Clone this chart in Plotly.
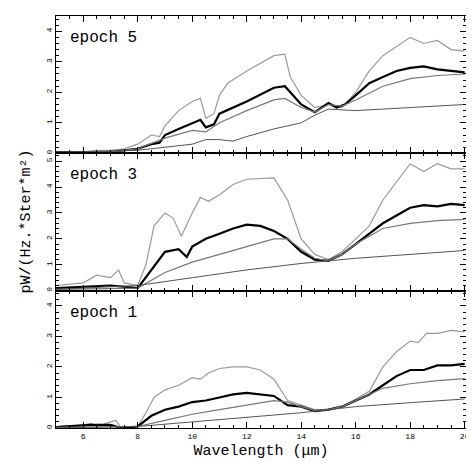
import plotly.graph_objects as go
from plotly.subplots import make_subplots

# epoch 5 (top panel)
e5_up_x = [5, 6, 6.5, 7, 7.5, 8, 8.5, 8.8, 9, 9.5, 10, 10.3, 10.5, 10.8, 11, 11.3, 12, 13, 13.4, 13.6, 14, 14.5, 15, 15.5, 16, 16.5, 17, 17.5, 18, 18.5, 19, 19.5, 20]
e5_up_y = [0.05, 0.05, 0.1, 0.1, 0.15, 0.3, 0.6, 0.55, 0.9, 1.4, 1.7, 1.8, 1.15, 1.3, 1.9, 2.3, 2.7, 3.2, 3.25, 2.5, 1.9, 1.5, 1.6, 1.5, 2.0, 2.7, 3.2, 3.5, 3.8, 3.6, 3.7, 3.4, 3.35]
e5_bk_x = [5, 7, 8, 8.5, 8.8, 9, 9.5, 10, 10.3, 10.5, 10.8, 11, 11.5, 12, 13, 13.4, 13.7, 14, 14.5, 15, 15.3, 15.6, 16, 16.5, 17, 17.5, 18, 18.5, 19, 19.5, 20]
e5_bk_y = [0.03, 0.05, 0.15, 0.3, 0.35, 0.6, 0.8, 1.0, 1.1, 0.85, 0.95, 1.3, 1.5, 1.7, 2.15, 2.2, 1.9, 1.6, 1.35, 1.65, 1.5, 1.6, 1.9, 2.3, 2.5, 2.7, 2.8, 2.85, 2.75, 2.7, 2.65]
e5_md_x = [5, 7, 8, 9, 10, 10.5, 11, 12, 13, 13.4, 14, 14.5, 15, 15.5, 16, 17, 18, 19, 20]
e5_md_y = [0.03, 0.05, 0.15, 0.5, 0.75, 0.7, 1.0, 1.4, 1.75, 1.8, 1.5, 1.35, 1.6, 1.55, 1.75, 2.2, 2.45, 2.55, 2.6]
e5_lo_x = [5, 8, 10, 10.5, 11, 11.5, 12, 13, 14, 14.5, 15, 16, 17, 18, 19, 20]
e5_lo_y = [0.02, 0.1, 0.3, 0.45, 0.45, 0.4, 0.55, 0.8, 1.0, 1.25, 1.45, 1.4, 1.45, 1.5, 1.55, 1.6]

# epoch 3 (middle panel)
e3_up_x = [5, 6, 6.5, 7, 7.3, 7.5, 8, 8.3, 8.6, 9, 9.3, 9.6, 10, 10.3, 10.6, 11, 11.5, 12, 13, 13.5, 14, 14.5, 15, 15.5, 16, 16.5, 17, 17.5, 18, 18.5, 19, 19.5, 20]
e3_up_y = [0.2, 0.3, 0.6, 0.5, 0.8, 0.3, 0.2, 1.0, 2.5, 3.0, 2.8, 2.1, 3.0, 3.6, 3.45, 3.7, 4.1, 4.3, 4.35, 3.5, 2.0, 1.4, 1.2, 1.5, 2.0, 2.5, 3.5, 4.2, 4.9, 4.6, 4.9, 4.7, 4.7]
e3_bk_x = [5, 7, 8, 8.5, 9, 9.5, 9.8, 10, 10.5, 11, 11.5, 12, 12.5, 13, 13.5, 14, 14.5, 15, 15.5, 16, 16.5, 17, 17.5, 18, 18.5, 19, 19.5, 20]
e3_bk_y = [0.1, 0.2, 0.1, 0.8, 1.5, 1.6, 1.3, 1.7, 2.0, 2.2, 2.4, 2.55, 2.5, 2.3, 2.0, 1.5, 1.2, 1.15, 1.4, 1.8, 2.2, 2.6, 2.9, 3.2, 3.3, 3.25, 3.35, 3.3]
e3_md_x = [5, 8, 9, 10, 11, 12, 13, 13.5, 14, 14.5, 15, 15.5, 16, 17, 18, 19, 20]
e3_md_y = [0.05, 0.1, 0.7, 1.1, 1.4, 1.7, 2.0, 2.0, 1.6, 1.25, 1.15, 1.4, 1.8, 2.4, 2.6, 2.7, 2.75]
e3_lo_x = [5, 8, 10, 12, 14, 15, 16, 18, 20]
e3_lo_y = [0.05, 0.2, 0.5, 0.8, 1.05, 1.15, 1.25, 1.4, 1.55]

# epoch 1 (bottom panel)
e1_up_x = [5, 6, 6.3, 6.5, 7, 7.2, 7.4, 8, 8.3, 8.6, 9, 9.5, 10, 10.3, 10.6, 11, 11.5, 12, 12.5, 13, 13.5, 14, 14.5, 15, 15.5, 16, 16.5, 17, 17.5, 18, 18.3, 18.6, 19, 19.5, 20]
e1_up_y = [0.05, 0.1, 0.15, 0.05, 0.2, 0.25, 0.0, 0.05, 0.5, 1.0, 1.25, 1.4, 1.65, 1.6, 1.8, 1.95, 2.0, 2.0, 1.9, 1.6, 0.9, 0.75, 0.6, 0.6, 0.7, 0.95, 1.2, 2.0, 2.5, 2.85, 2.8, 3.1, 3.1, 3.2, 3.15]
e1_bk_x = [5, 6.3, 7, 7.4, 8, 8.5, 9, 9.5, 10, 10.5, 11, 11.5, 12, 12.5, 13, 13.5, 14, 14.5, 15, 15.5, 16, 16.5, 17, 17.5, 18, 18.5, 19, 19.5, 20]
e1_bk_y = [0.03, 0.1, 0.1, 0.0, 0.05, 0.4, 0.6, 0.7, 0.85, 0.9, 1.0, 1.1, 1.15, 1.1, 1.05, 0.75, 0.7, 0.55, 0.6, 0.7, 0.9, 1.1, 1.4, 1.7, 1.9, 1.9, 2.05, 2.05, 2.1]
e1_md_x = [5, 8, 9, 10, 11, 12, 13, 13.5, 14, 14.5, 15, 15.5, 16, 17, 18, 19, 20]
e1_md_y = [0.02, 0.05, 0.25, 0.45, 0.6, 0.75, 0.9, 0.85, 0.7, 0.58, 0.6, 0.7, 0.9, 1.3, 1.45, 1.55, 1.62]
e1_lo_x = [5, 8, 10, 12, 14, 15, 16, 18, 20]
e1_lo_y = [0.0, 0.05, 0.2, 0.35, 0.5, 0.6, 0.7, 0.83, 0.95]

panels = [
    ("epoch 5", [(e5_up_x, e5_up_y), (e5_bk_x, e5_bk_y), (e5_md_x, e5_md_y), (e5_lo_x, e5_lo_y)], 4.5),
    ("epoch 3", [(e3_up_x, e3_up_y), (e3_bk_x, e3_bk_y), (e3_md_x, e3_md_y), (e3_lo_x, e3_lo_y)], 5.3),
    ("epoch 1", [(e1_up_x, e1_up_y), (e1_bk_x, e1_bk_y), (e1_md_x, e1_md_y), (e1_lo_x, e1_lo_y)], 4.5),
]
styles = [("#999999", 1.2), ("black", 2.2), ("#777777", 1.2), ("#555555", 1.0)]

FONT = "Liberation Mono"
fig = make_subplots(rows=3, cols=1, shared_xaxes=True, vertical_spacing=0)

for r, (label, series, ymax) in enumerate(panels, start=1):
    for (xs, ys), (col, w) in zip(series, styles):
        fig.add_trace(go.Scatter(x=xs, y=ys, mode="lines", line=dict(color=col, width=w),
                                 showlegend=False), row=r, col=1)
    fig.add_annotation(text=label, xref="x domain", yref="y domain", x=0.03, y=0.92,
                       showarrow=False, xanchor="left", font=dict(family=FONT, size=16, color="black"),
                       row=r, col=1)
    fig.update_yaxes(range=[0, ymax], dtick=1, row=r, col=1)

axis_common = dict(showline=True, linecolor="black", linewidth=1, mirror="ticks", ticks="inside",
                   ticklen=6, tickcolor="black", showgrid=False, zeroline=False,
                   minor=dict(ticks="inside", ticklen=3, tickcolor="black"),
                   tickfont=dict(family=FONT, size=8, color="black"))
fig.update_xaxes(**axis_common, range=[5, 20.05], dtick=2, tick0=6, ticklabeloverflow="allow")
fig.update_xaxes(minor_dtick=0.5)
fig.update_yaxes(**axis_common, tickangle=-90)
fig.update_yaxes(minor_dtick=0.2)
fig.update_xaxes(title=dict(text="Wavelength (μm)", font=dict(family=FONT, size=15, color="black"), standoff=4), row=3, col=1)

fig.add_annotation(text="pW/(Hz.*Ster*m²)", xref="paper", yref="paper", x=-0.1, y=0.5,
                   textangle=-90, showarrow=False, font=dict(family=FONT, size=15, color="black"))

fig.update_layout(width=474, height=466, margin=dict(l=48, r=16, t=8, b=46),
                  plot_bgcolor="white", paper_bgcolor="white")
fig.write_html("out.html")
